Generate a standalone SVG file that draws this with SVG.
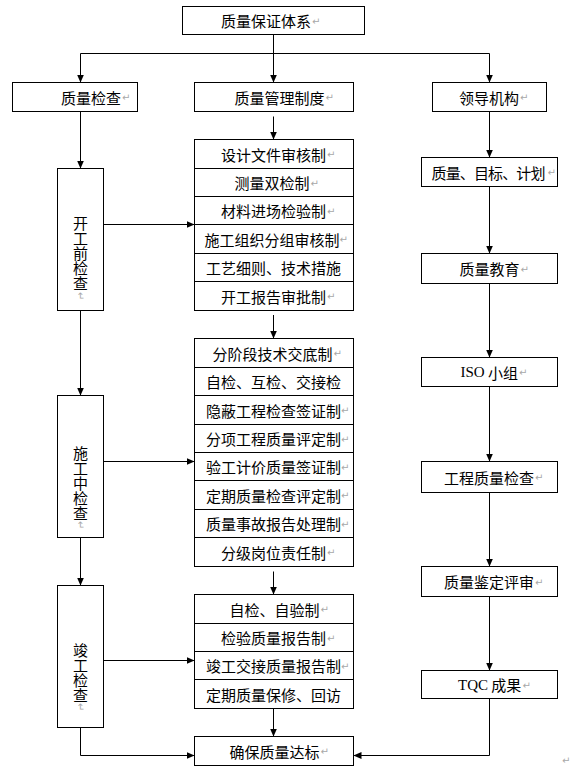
<svg xmlns="http://www.w3.org/2000/svg" width="572" height="780" viewBox="0 0 572 780">
<style>
.b{fill:#fff;stroke:#000;stroke-width:1}
.l{fill:none;stroke:#000;stroke-width:1}
.t{font-family:"Noto Sans CJK SC","Noto Sans CJK JP",sans-serif;font-size:15px;fill:#000;dominant-baseline:central}
.p{font-family:"DejaVu Sans",sans-serif;font-size:10px;fill:#a8a8a8}
.s{font-family:"Liberation Serif",serif;font-size:15px}
.c{stroke:#000;stroke-width:1;fill:none;marker-end:url(#ah)}
</style>
<defs>
<marker id="ah" markerUnits="userSpaceOnUse" markerWidth="8" markerHeight="7" refX="8" refY="3.5" orient="auto">
<path d="M0,0 L8,3.5 L0,7 z" fill="#000"/>
</marker>
</defs>
<rect width="572" height="780" fill="#fff"/>

<g id="connectors">
<line class="l" x1="273.5" y1="34.5" x2="273.5" y2="53.5"/>
<line class="l" x1="80.5" y1="53.5" x2="489.5" y2="53.5"/>
<line class="c" x1="273.5" y1="53.5" x2="273.5" y2="82.5"/>
<line class="c" x1="80.5" y1="53.5" x2="80.5" y2="82.5"/>
<line class="c" x1="489.5" y1="53.5" x2="489.5" y2="82.5"/>
<line class="c" x1="80.5" y1="111.5" x2="80.5" y2="168.5"/>
<line class="c" x1="273.5" y1="116.5" x2="273.5" y2="139.5"/>
<line class="c" x1="103.5" y1="224.5" x2="194.5" y2="224.5"/>
<line class="c" x1="80.5" y1="310.5" x2="80.5" y2="395.5"/>
<line class="c" x1="273.5" y1="315" x2="273.5" y2="338.5"/>
<line class="c" x1="103.5" y1="461.5" x2="194.5" y2="461.5"/>
<line class="c" x1="80.5" y1="537.5" x2="80.5" y2="585.5"/>
<line class="c" x1="273.5" y1="571.5" x2="273.5" y2="594.5"/>
<line class="c" x1="103.5" y1="660.5" x2="194.5" y2="660.5"/>
<line class="c" x1="273.5" y1="708.5" x2="273.5" y2="736.5"/>
<polyline class="c" points="80.5,727.5 80.5,755.5 194.5,755.5"/>
<line class="c" x1="489.5" y1="111.5" x2="489.5" y2="157.5"/>
<line class="c" x1="489.5" y1="186.5" x2="489.5" y2="253.5"/>
<line class="c" x1="489.5" y1="283.5" x2="489.5" y2="357.5"/>
<line class="c" x1="489.5" y1="386.5" x2="489.5" y2="461.5"/>
<line class="c" x1="489.5" y1="492.5" x2="489.5" y2="566.5"/>
<line class="c" x1="489.5" y1="596.5" x2="489.5" y2="670.5"/>
<polyline class="c" points="489.5,698.5 489.5,755.5 353.5,755.5"/>
</g>

<g id="n-top">
<rect class="b" x="182.5" y="6.5" width="182" height="28"/>
<text class="t" x="221" y="20.5">质量保证体系<tspan class="p" dx="1">↵</tspan></text>
</g>

<g id="n-check">
<rect class="b" x="12.5" y="82.5" width="125" height="29"/>
<text class="t" x="61" y="97">质量检查<tspan class="p" dx="1">↵</tspan></text>
</g>

<g id="n-system">
<rect class="b" x="194.5" y="82.5" width="159" height="29"/>
<text class="t" x="234.5" y="97">质量管理制度<tspan class="p" dx="1">↵</tspan></text>
</g>

<g id="n-lead">
<rect class="b" x="432.5" y="82.5" width="114" height="29"/>
<text class="t" x="459" y="97">领导机构<tspan class="p" dx="1">↵</tspan></text>
</g>

<g id="n-before">
<rect class="b" x="57.5" y="168.5" width="46" height="142"/>
<text class="t" x="80.5" y="222" text-anchor="middle">开</text>
<text class="t" x="80.5" y="237" text-anchor="middle">工</text>
<text class="t" x="80.5" y="252" text-anchor="middle">前</text>
<text class="t" x="80.5" y="267" text-anchor="middle">检</text>
<text class="t" x="80.5" y="282" text-anchor="middle">查</text>
<text class="p" x="80.5" y="296" text-anchor="middle" dominant-baseline="central" transform="rotate(90 80.5 296)">↵</text>
</g>

<g id="n-group1">
<rect class="b" x="194.5" y="139.5" width="159" height="171"/>
<path class="l" d="M194.5,168.5H353.5M194.5,196.5H353.5M194.5,224.5H353.5M194.5,253.5H353.5M194.5,281.5H353.5"/>
<text class="t" x="221" y="154">设计文件审核制<tspan class="p" dx="1">↵</tspan></text>
<text class="t" x="234.5" y="182.5">测量双检制<tspan class="p" dx="1">↵</tspan></text>
<text class="t" x="221" y="210.5">材料进场检验制<tspan class="p" dx="1">↵</tspan></text>
<text class="t" x="204.5" y="239">施工组织分组审核制<tspan class="p" dx="0">↵</tspan></text>
<text class="t" x="206" y="267.5">工艺细则、技术措施</text>
<text class="t" x="221" y="296">开工报告审批制<tspan class="p" dx="1">↵</tspan></text>
</g>

<g id="n-during">
<rect class="b" x="57.5" y="395.5" width="46" height="142"/>
<text class="t" x="80.5" y="452" text-anchor="middle">施</text>
<text class="t" x="80.5" y="467" text-anchor="middle">工</text>
<text class="t" x="80.5" y="482" text-anchor="middle">中</text>
<text class="t" x="80.5" y="497" text-anchor="middle">检</text>
<text class="t" x="80.5" y="512" text-anchor="middle">查</text>
<text class="p" x="80.5" y="525" text-anchor="middle" dominant-baseline="central" transform="rotate(90 80.5 525)">↵</text>
</g>

<g id="n-group2">
<rect class="b" x="194.5" y="338.5" width="159" height="228"/>
<path class="l" d="M194.5,367.5H353.5M194.5,395.5H353.5M194.5,424.5H353.5M194.5,452.5H353.5M194.5,480.5H353.5M194.5,509.5H353.5M194.5,537.5H353.5"/>
<text class="t" x="212.5" y="353">分阶段技术交底制<tspan class="p" dx="1">↵</tspan></text>
<text class="t" x="206" y="381.5">自检、互检、交接检</text>
<text class="t" x="206" y="410">隐蔽工程检查签证制<tspan class="p" dx="0">↵</tspan></text>
<text class="t" x="206" y="438.5">分项工程质量评定制<tspan class="p" dx="0">↵</tspan></text>
<text class="t" x="206" y="466.5">验工计价质量签证制<tspan class="p" dx="0">↵</tspan></text>
<text class="t" x="206" y="495">定期质量检查评定制<tspan class="p" dx="0">↵</tspan></text>
<text class="t" x="206" y="523.5">质量事故报告处理制<tspan class="p" dx="0">↵</tspan></text>
<text class="t" x="221" y="552">分级岗位责任制<tspan class="p" dx="1">↵</tspan></text>
</g>

<g id="n-after">
<rect class="b" x="57.5" y="585.5" width="46" height="142"/>
<text class="t" x="80.5" y="649" text-anchor="middle">竣</text>
<text class="t" x="80.5" y="664" text-anchor="middle">工</text>
<text class="t" x="80.5" y="679" text-anchor="middle">检</text>
<text class="t" x="80.5" y="694" text-anchor="middle">查</text>
<text class="p" x="80.5" y="707" text-anchor="middle" dominant-baseline="central" transform="rotate(90 80.5 707)">↵</text>
</g>

<g id="n-group3">
<rect class="b" x="194.5" y="594.5" width="159" height="114"/>
<path class="l" d="M194.5,623.5H353.5M194.5,651.5H353.5M194.5,679.5H353.5"/>
<text class="t" x="229.5" y="609">自检、自验制<tspan class="p" dx="1">↵</tspan></text>
<text class="t" x="221" y="637.5">检验质量报告制<tspan class="p" dx="1">↵</tspan></text>
<text class="t" x="206" y="665.5">竣工交接质量报告制<tspan class="p" dx="0">↵</tspan></text>
<text class="t" x="206" y="694">定期质量保修、回访</text>
</g>

<g id="n-result">
<rect class="b" x="194.5" y="736.5" width="159" height="29"/>
<text class="t" x="229.5" y="751">确保质量达标<tspan class="p" dx="1">↵</tspan></text>
</g>

<g id="n-goal">
<rect class="b" x="421.5" y="157.5" width="136" height="29"/>
<text class="t" x="431.5" y="172" textLength="114" lengthAdjust="spacing">质量、目标、计划</text>
<text class="p" x="547.5" y="172" dominant-baseline="central">↵</text>
</g>

<g id="n-edu">
<rect class="b" x="421.5" y="253.5" width="136" height="30"/>
<text class="t" x="459.5" y="268.5">质量教育<tspan class="p" dx="1">↵</tspan></text>
</g>

<g id="n-iso">
<rect class="b" x="421.5" y="357.5" width="136" height="29"/>
<text class="t" x="460.5" y="372"><tspan class="s">ISO</tspan> 小组<tspan class="p" dx="1">↵</tspan></text>
</g>

<g id="n-proj">
<rect class="b" x="421.5" y="461.5" width="136" height="31"/>
<text class="t" x="444" y="477">工程质量检查<tspan class="p" dx="1">↵</tspan></text>
</g>

<g id="n-eval">
<rect class="b" x="421.5" y="566.5" width="136" height="30"/>
<text class="t" x="444" y="581.5">质量鉴定评审<tspan class="p" dx="1">↵</tspan></text>
</g>

<g id="n-tqc">
<rect class="b" x="421.5" y="670.5" width="136" height="28"/>
<text class="t" x="458" y="684.5"><tspan class="s" font-size="14">TQC</tspan> 成果<tspan class="p" dx="1">↵</tspan></text>
</g>

<text class="p" x="562" y="764">↵</text>
</svg>
